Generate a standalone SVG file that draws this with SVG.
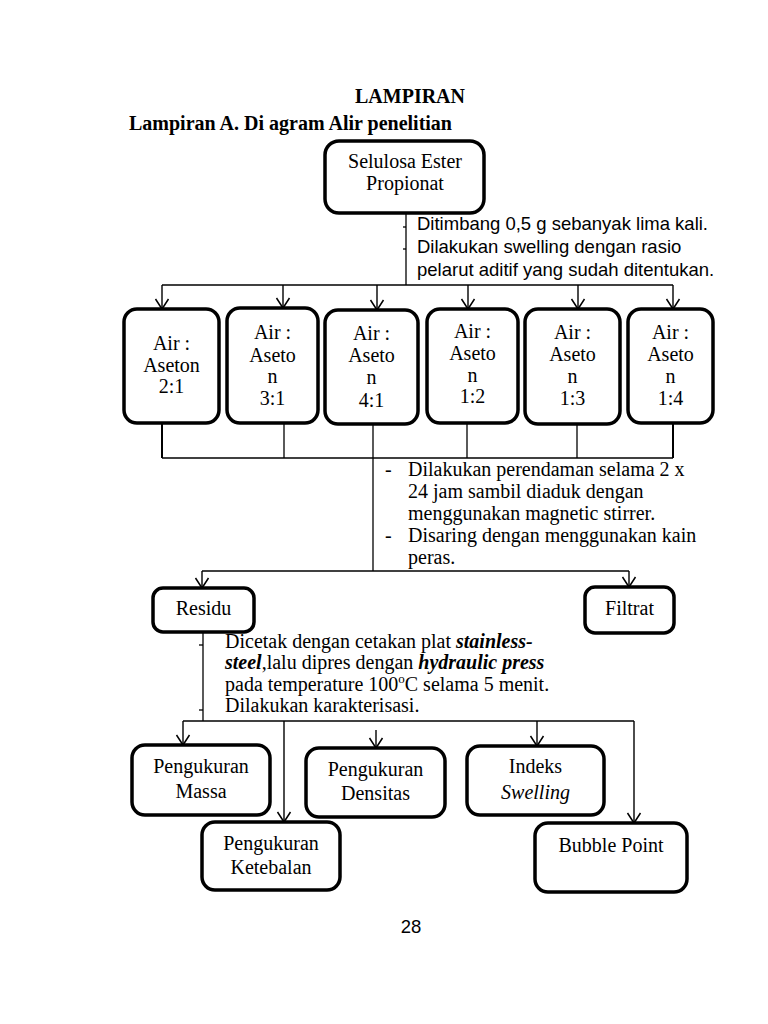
<svg xmlns="http://www.w3.org/2000/svg" width="768" height="1024" viewBox="0 0 768 1024">
<defs>
<marker id="ah" markerUnits="userSpaceOnUse" markerWidth="14" markerHeight="16" viewBox="-12 -8 14 16" refX="0" refY="0" orient="auto">
<path d="M-10,-6.5 L0,0 L-10,6.5" fill="none" stroke="#000" stroke-width="1.5"/>
</marker>
</defs>
<style>
.bx{fill:#fff;stroke:#000;stroke-width:3.5}
.ln{fill:none;stroke:#000;stroke-width:1.3}
.lt{fill:none;stroke:#000;stroke-width:2}
.ar{fill:none;stroke:#000;stroke-width:1.4;marker-end:url(#ah)}
.t{font-family:"Liberation Serif","Times New Roman",serif;font-size:20px;fill:#000}
.c{text-anchor:middle}
.s{font-family:"Liberation Sans",Arial,sans-serif;font-size:18.5px;fill:#000}
.bi{font-weight:bold;font-style:italic}
</style>
<rect width="768" height="1024" fill="#fff"/>
<text class="t c" x="410" y="103" font-weight="bold" font-size="23">LAMPIRAN</text>
<text class="t" x="129" y="130" font-weight="bold">Lampiran A. Di agram Alir penelitian</text>

<g id="connectors">
<line class="ln" x1="406" y1="213" x2="406" y2="285"/>
<line class="ln" x1="403" y1="227" x2="406" y2="227"/>
<line class="ln" x1="403" y1="249" x2="406" y2="249"/>
<line class="ln" x1="162" y1="285" x2="673" y2="285"/>
<line class="ar" x1="162" y1="285" x2="162" y2="309"/>
<line class="ar" x1="283" y1="285" x2="283" y2="308"/>
<line class="ar" x1="377" y1="285" x2="377" y2="310"/>
<line class="ar" x1="468" y1="285" x2="468" y2="309"/>
<line class="ar" x1="578" y1="285" x2="578" y2="309"/>
<line class="ar" x1="673" y1="285" x2="673" y2="309"/>
<line class="lt" x1="162" y1="423" x2="162" y2="458"/>
<line class="ln" x1="284" y1="423" x2="284" y2="458"/>
<line class="ln" x1="467" y1="423" x2="467" y2="458"/>
<line class="ln" x1="577" y1="424" x2="577" y2="458"/>
<line class="lt" x1="673" y1="423" x2="673" y2="458"/>
<line class="ln" x1="162" y1="458" x2="673" y2="458"/>
<line class="ln" x1="373" y1="424" x2="373" y2="571"/>
<line class="ln" x1="202" y1="571" x2="629" y2="571"/>
<line class="ar" x1="202" y1="571" x2="202" y2="588"/>
<line class="ar" x1="629" y1="571" x2="629" y2="587"/>
<line class="ln" x1="203" y1="632" x2="203" y2="721"/>
<line class="ln" x1="199" y1="645" x2="203" y2="645"/>
<line class="ln" x1="199" y1="710" x2="203" y2="710"/>
<line class="ln" x1="183" y1="721" x2="634" y2="721"/>
<line class="ar" x1="183" y1="721" x2="183" y2="745"/>
<line class="ar" x1="284" y1="721" x2="284" y2="822"/>
<line class="ar" x1="376" y1="730" x2="376" y2="748"/>
<line class="ar" x1="537" y1="721" x2="537" y2="746"/>
<line class="ar" x1="634" y1="721" x2="634" y2="823"/>
</g>

<g id="n-sep">
<rect class="bx" x="325" y="141" width="159" height="72" rx="14"/>
<text class="t c" x="405" y="168">Selulosa Ester</text>
<text class="t c" x="405" y="190">Propionat</text>
</g>

<g id="note1">
<text class="s" x="417" y="230">Ditimbang 0,5 g  sebanyak lima kali.</text>
<text class="s" x="417" y="253">Dilakukan swelling dengan rasio</text>
<text class="s" x="417" y="276">pelarut aditif yang sudah ditentukan.</text>
</g>

<g id="n-21">
<rect class="bx" x="124" y="309" width="95" height="114" rx="13"/>
<text class="t c" x="171.5" y="350">Air :</text>
<text class="t c" x="171.5" y="372">Aseton</text>
<text class="t c" x="171.5" y="393">2:1</text>
</g>
<g id="n-31">
<rect class="bx" x="227" y="308" width="91" height="115" rx="13"/>
<text class="t c" x="272.5" y="339">Air :</text>
<text class="t c" x="272.5" y="362">Aseto</text>
<text class="t c" x="272.5" y="383">n</text>
<text class="t c" x="272.5" y="405">3:1</text>
</g>
<g id="n-41">
<rect class="bx" x="325" y="310" width="93" height="114" rx="13"/>
<text class="t c" x="371.5" y="340">Air :</text>
<text class="t c" x="371.5" y="362">Aseto</text>
<text class="t c" x="371.5" y="384">n</text>
<text class="t c" x="371.5" y="407">4:1</text>
</g>
<g id="n-12">
<rect class="bx" x="427" y="309" width="91" height="114" rx="13"/>
<text class="t c" x="472.5" y="338">Air :</text>
<text class="t c" x="472.5" y="360">Aseto</text>
<text class="t c" x="472.5" y="382">n</text>
<text class="t c" x="472.5" y="403">1:2</text>
</g>
<g id="n-13">
<rect class="bx" x="525" y="309" width="95" height="115" rx="13"/>
<text class="t c" x="572.5" y="339">Air :</text>
<text class="t c" x="572.5" y="361">Aseto</text>
<text class="t c" x="572.5" y="383">n</text>
<text class="t c" x="572.5" y="405">1:3</text>
</g>
<g id="n-14">
<rect class="bx" x="628" y="309" width="85" height="114" rx="13"/>
<text class="t c" x="670.5" y="339">Air :</text>
<text class="t c" x="670.5" y="361">Aseto</text>
<text class="t c" x="670.5" y="383">n</text>
<text class="t c" x="670.5" y="405">1:4</text>
</g>

<g id="note2">
<text class="t" x="385" y="476">-</text>
<text class="t" x="408" y="476">Dilakukan perendaman selama 2 x</text>
<text class="t" x="408" y="498">24 jam sambil diaduk dengan</text>
<text class="t" x="408" y="520">menggunakan magnetic stirrer.</text>
<text class="t" x="385" y="542">-</text>
<text class="t" x="408" y="542">Disaring dengan menggunakan kain</text>
<text class="t" x="408" y="564">peras.</text>
</g>

<g id="n-residu">
<rect class="bx" x="153" y="588" width="101" height="44" rx="10"/>
<text class="t c" x="203.5" y="615">Residu</text>
</g>
<g id="n-filtrat">
<rect class="bx" x="585" y="587" width="89" height="46" rx="10"/>
<text class="t c" x="629.5" y="615">Filtrat</text>
</g>

<g id="note3">
<text class="t" x="225" y="648">Dicetak dengan cetakan plat <tspan class="bi">stainless-</tspan></text>
<text class="t" x="225" y="669"><tspan class="bi">steel</tspan>,lalu dipres dengan <tspan class="bi">hydraulic press</tspan></text>
<text class="t" x="225" y="691">pada temperature 100<tspan font-size="13" dy="-8">o</tspan><tspan dy="8">C selama 5 menit.</tspan></text>
<text class="t" x="225" y="712">Dilakukan karakterisasi.</text>
</g>

<g id="n-massa">
<rect class="bx" x="132" y="745" width="138" height="70" rx="13"/>
<text class="t c" x="201" y="773">Pengukuran</text>
<text class="t c" x="201" y="798">Massa</text>
</g>
<g id="n-ketebalan">
<rect class="bx" x="202" y="822" width="138" height="68" rx="13"/>
<text class="t c" x="271" y="850">Pengukuran</text>
<text class="t c" x="271" y="874">Ketebalan</text>
</g>
<g id="n-densitas">
<rect class="bx" x="306" y="748" width="139" height="69" rx="13"/>
<text class="t c" x="375.5" y="776">Pengukuran</text>
<text class="t c" x="375.5" y="800">Densitas</text>
</g>
<g id="n-indeks">
<rect class="bx" x="467" y="746" width="137" height="69" rx="13"/>
<text class="t c" x="535.5" y="773">Indeks</text>
<text class="t c" x="535.5" y="799" font-style="italic">Swelling</text>
</g>
<g id="n-bubble">
<rect class="bx" x="535" y="823" width="152" height="69" rx="13"/>
<text class="t c" x="611" y="852">Bubble Point</text>
</g>

<text class="s c" x="411" y="933">28</text>
</svg>
